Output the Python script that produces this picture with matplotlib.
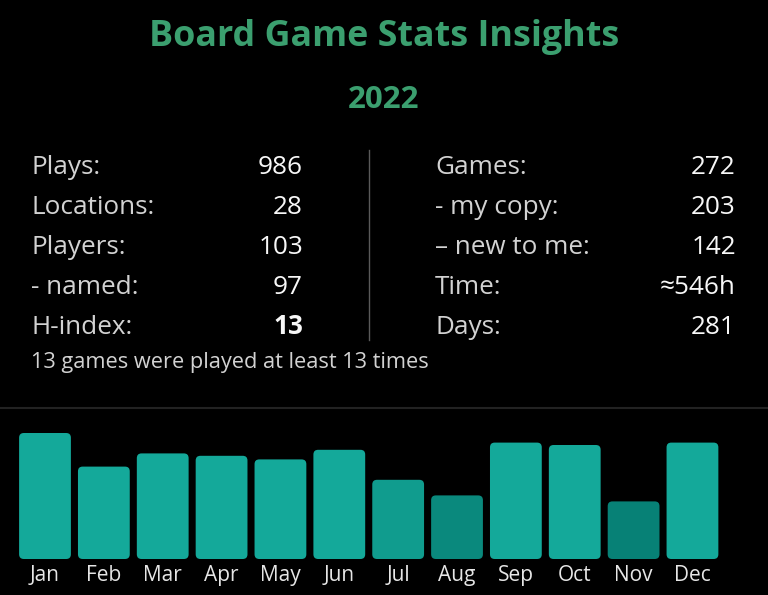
import matplotlib
matplotlib.use("Agg")
import matplotlib.pyplot as plt
import numpy as np
from matplotlib.patches import FancyBboxPatch
from matplotlib.colors import LinearSegmentedColormap

# data
title = "Board Game Stats Insights"
year = "2022"
left_labels = ["Plays:", "Locations:", "Players:", "- named:", "H-index:"]
left_values = ["986", "28", "103", "97", "13"]
right_labels = ["Games:", "- my copy:", "\u2013 new to me:", "Time:", "Days:"]
right_values = ["272", "203", "142", "\u2248546h", "281"]
footnote = "13 games were played at least 13 times"
months = ["Jan", "Feb", "Mar", "Apr", "May", "Jun",
          "Jul", "Aug", "Sep", "Oct", "Nov", "Dec"]
plays = [105, 77, 88, 86, 83, 91, 66, 53, 97, 95, 48, 97]

W, H = 768, 595
BG = "#000000"
GREEN = "#3b9f6f"
LABEL = "#d2d2d2"
VALUE = "#f7f7f7"
FONT = ["Open Sans", "DejaVu Sans"]

fig = plt.figure(figsize=(W / 100, H / 100), dpi=100, facecolor=BG)


def fx(px):
    return px / W


def fy(py):
    return 1 - py / H


fig.text(fx(384), fy(46), title, ha="center", va="baseline", color=GREEN,
         fontsize=25.8, fontweight="bold", family=FONT)
fig.text(fx(384), fy(108), year, ha="center", va="baseline", color=GREEN,
         fontsize=22.5, fontweight="bold", family=FONT)

for i in range(len(left_labels)):
    base = 174 + 40 * i
    fig.text(fx(31), fy(base), left_labels[i], ha="left", va="baseline",
             color=LABEL, fontsize=18.8, family=FONT)
    fig.text(fx(303), fy(base), left_values[i], ha="right", va="baseline",
             color=VALUE, fontsize=18.8, family=FONT,
             fontweight="bold" if left_labels[i] == "H-index:" else "normal")
    fig.text(fx(435), fy(base), right_labels[i], ha="left", va="baseline",
             color=LABEL, fontsize=18.8, family=FONT)
    fig.text(fx(736), fy(base), right_values[i], ha="right", va="baseline",
             color=VALUE, fontsize=18.8, family=FONT)

fig.text(fx(31), fy(368), footnote, ha="left", va="baseline", color=LABEL,
         fontsize=15.7, family=FONT)

# separators
fig.add_artist(plt.Line2D([fx(369), fx(369)], [fy(150), fy(340)],
                          color="#5a5a5a", lw=1.0))
fig.add_artist(plt.Line2D([0, 1], [fy(408), fy(408)],
                          color="#222222", lw=1.5))

# monthly bars
ax = fig.add_axes([0, fy(559), 1, (559 - 420) / H])
ax.set_facecolor(BG)
x = np.arange(len(months))
bw = 0.88
ax.set_xlim(-45 / 58.86, (W - 45) / 58.86)
ax.set_ylim(0, 139 / 1.2)

cmap = LinearSegmentedColormap.from_list("teal", ["#067d72", "#14a99a"])
aspect = (139 / 1.2) / 139 / ((W / 58.86) / W)
for xi, v in zip(x, plays):
    t = np.clip((v - 45) / 30, 0, 1)
    ax.add_patch(FancyBboxPatch((xi - bw / 2, 0), bw, v,
                                boxstyle="round,pad=0,rounding_size=0.08",
                                mutation_aspect=aspect,
                                facecolor=cmap(t), edgecolor="none"))

ax.set_xticks(x)
ax.set_xticklabels(months, color="#e6e6e6", fontsize=15, family=FONT)
ax.tick_params(axis="x", length=0, pad=4.5)
ax.set_yticks([])
for s in ax.spines.values():
    s.set_visible(False)

fig.savefig("out.png", dpi=100, facecolor=BG)
